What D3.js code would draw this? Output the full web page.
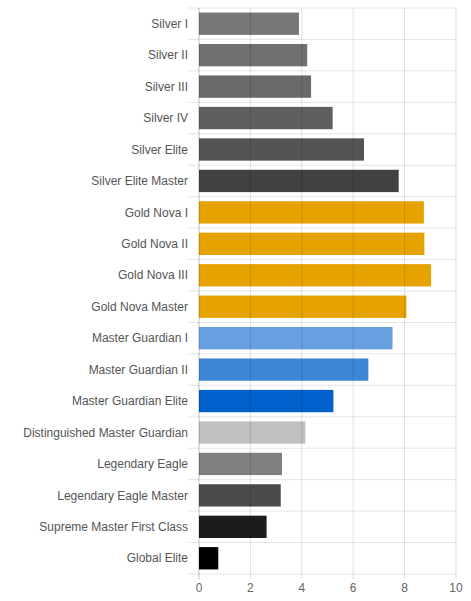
<!DOCTYPE html>
<html>
<head>
<meta charset="utf-8">
<script src="https://cdn.jsdelivr.net/npm/d3@7"></script>
<style>
  body { margin: 0; background: #fff; }
  svg text { font-family: "Liberation Sans", Arial, sans-serif; }
</style>
</head>
<body>
<div id="chart"></div>
<script>
// rank names, top to bottom
const ranks = [
    "Silver I", "Silver II", "Silver III", "Silver IV", "Silver Elite", "Silver Elite Master",
    "Gold Nova I", "Gold Nova II", "Gold Nova III", "Gold Nova Master",
    "Master Guardian I", "Master Guardian II", "Master Guardian Elite",
    "Distinguished Master Guardian", "Legendary Eagle", "Legendary Eagle Master",
    "Supreme Master First Class", "Global Elite"
];
const values = [3.89, 4.21, 4.36, 5.2, 6.42, 7.77, 8.75, 8.77, 9.03, 8.07, 7.53, 6.59, 5.23, 4.14, 3.23, 3.18, 2.63, 0.75];
const colors = [
    "#777777", "#707070", "#6a6a6a", "#5f5f5f", "#545454", "#414141",
    "#e6a300", "#e6a300", "#e6a300", "#e6a300",
    "#67a0e1", "#3f86d9", "#0060cc",
    "#c0c0c0", "#808080", "#4b4b4b", "#1c1c1c", "#000000"
];
const xTicks = [0, 2, 4, 6, 8, 10];

const width = 471, height = 601;
const margin = { top: 8, right: 15, bottom: 27, left: 199 };

const svg = d3.select("#chart").append("svg")
    .attr("width", width)
    .attr("height", height);

const x = d3.scaleLinear().domain([0, 10]).range([margin.left, width - margin.right]);
const y = d3.scaleBand().domain(ranks).range([margin.top, height - margin.bottom]).paddingInner(0.29).paddingOuter(0.145);

// bars
svg.append("g").selectAll("rect").data(ranks).enter().append("rect")
    .attr("x", x(0))
    .attr("y", d => y(d))
    .attr("width", (d, i) => x(values[i]) - x(0))
    .attr("height", y.bandwidth())
    .attr("fill", (d, i) => colors[i]);

// grid drawn over the bars, faint
const step = y.step();
const bounds = d3.range(ranks.length + 1).map(i => margin.top + i * step);
svg.append("g").selectAll("line").data(bounds).enter().append("line")
    .attr("x1", 188).attr("x2", x(10))
    .attr("y1", d => d).attr("y2", d => d)
    .attr("stroke", "rgba(0,0,0,0.1)");

svg.append("g").selectAll("line").data(xTicks.slice(1)).enter().append("line")
    .attr("x1", d => x(d)).attr("x2", d => x(d))
    .attr("y1", margin.top).attr("y2", height - margin.bottom)
    .attr("stroke", "rgba(0,0,0,0.12)");

// left axis line
svg.append("line")
    .attr("x1", x(0)).attr("x2", x(0))
    .attr("y1", margin.top).attr("y2", height - margin.bottom + 5)
    .attr("stroke", "rgba(0,0,0,0.25)");

// bottom ticks
svg.append("g").selectAll("line").data(xTicks.slice(1)).enter().append("line")
    .attr("x1", d => x(d)).attr("x2", d => x(d))
    .attr("y1", height - margin.bottom).attr("y2", height - margin.bottom + 5)
    .attr("stroke", "rgba(0,0,0,0.12)");

// category labels
svg.append("g").selectAll("text").data(ranks).enter().append("text")
    .attr("x", 188)
    .attr("y", d => y(d) + y.bandwidth() / 2)
    .attr("dy", "0.35em")
    .attr("text-anchor", "end")
    .attr("font-size", 12)
    .attr("fill", "#555")
    .text(d => d);

// x tick labels
svg.append("g").selectAll("text").data(xTicks).enter().append("text")
    .attr("x", d => x(d))
    .attr("y", 588)
    .attr("dy", "0.35em")
    .attr("text-anchor", "middle")
    .attr("font-size", 12)
    .attr("fill", "#666")
    .text(d => d);
</script>
</body>
</html>
